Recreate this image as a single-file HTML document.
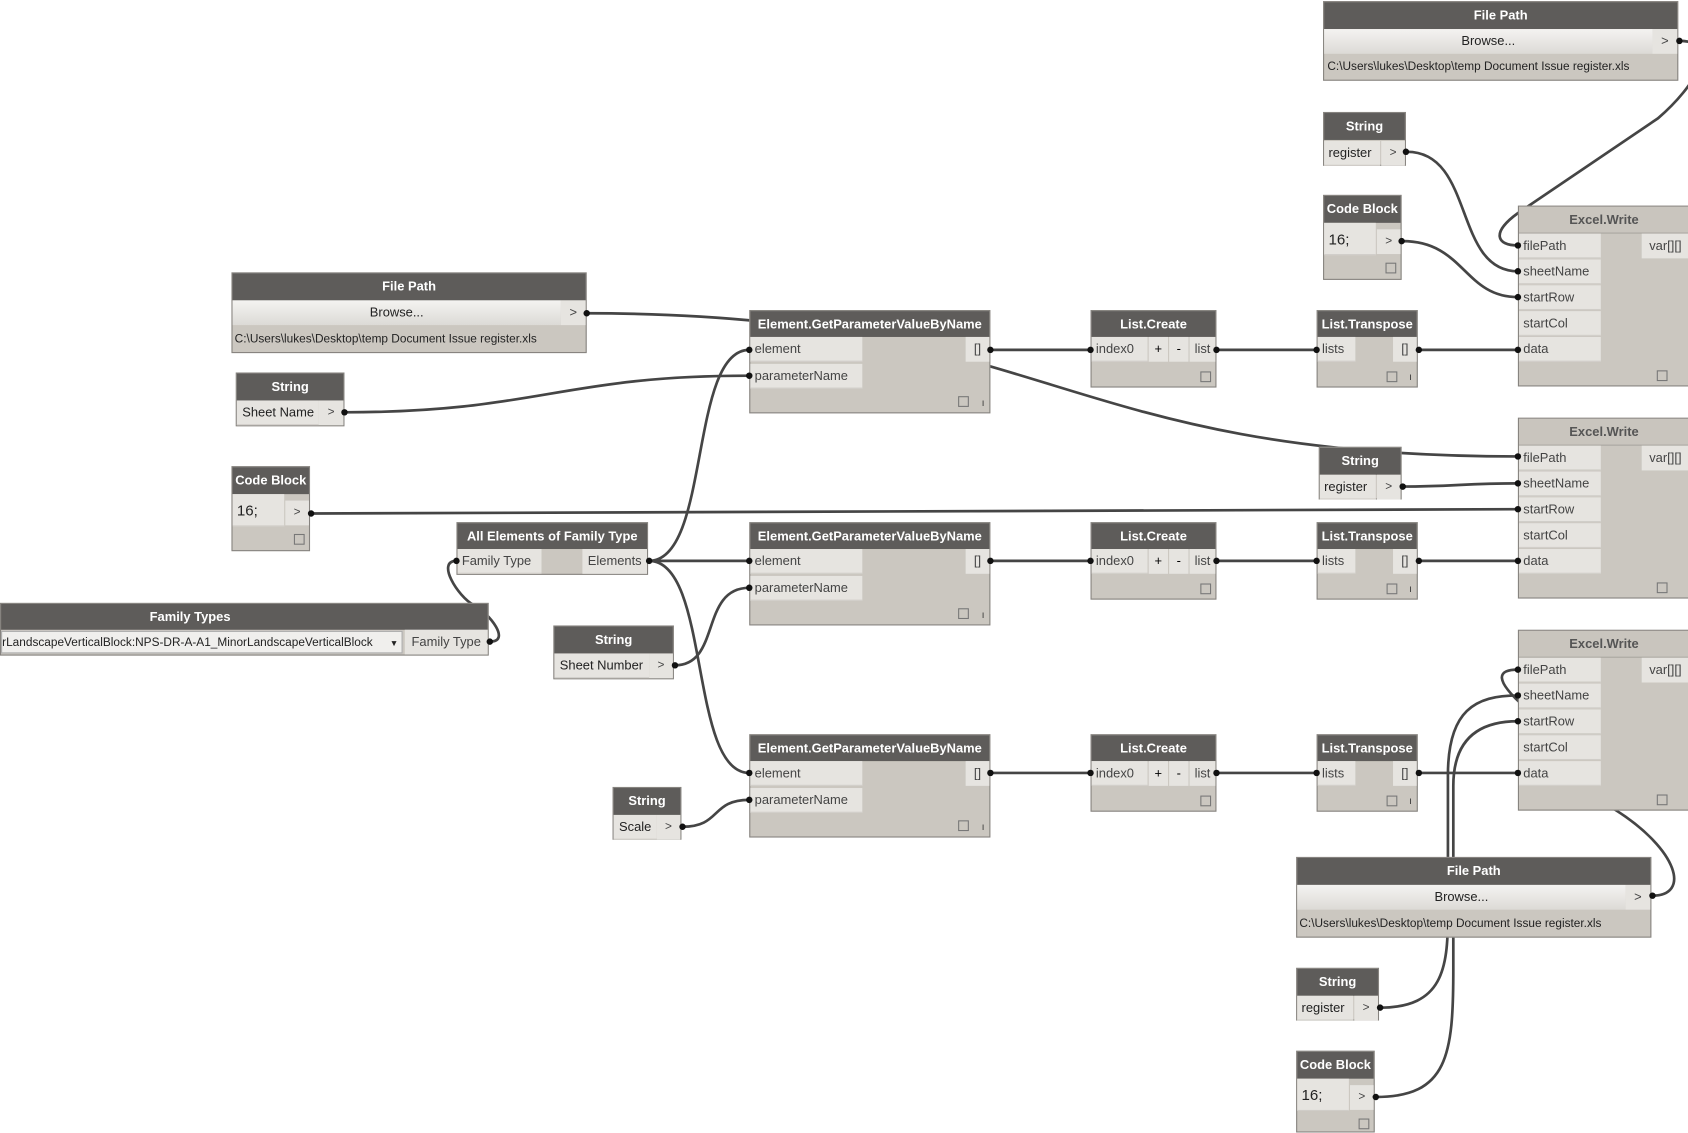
<!DOCTYPE html>
<html><head><meta charset="utf-8"><style>
body{margin:0;background:#fff;width:1688px;height:1130px;overflow:hidden}
#w{position:absolute;left:0;top:0;width:1568px;height:1050px;transform:scale(1.07653);transform-origin:0 0;font-family:"Liberation Sans",sans-serif;font-size:12px;color:#333}
.n{position:absolute;background:#cbc7c0;border:1px solid #86837f;box-sizing:border-box}
.h{position:absolute;left:0;right:0;top:0;height:24px;line-height:24px;background:#5e5c5a;color:#fff;font-weight:bold;text-align:center;font-size:12px;white-space:nowrap}
.hl{background:#c9c5be;color:#555;border-bottom:1px solid #a9a6a0}
.r{position:absolute;background:#e6e4e0;height:23px;line-height:23px;padding-left:4px;box-sizing:border-box;white-space:nowrap;color:#444;border-bottom:1px solid #d0cdc8}
.b{position:absolute;background:#e6e4e0;height:23px;line-height:23px;text-align:center;box-sizing:border-box;color:#444}
.sq{position:absolute;width:8px;height:8px;border:1px solid #777}
.br{position:absolute;background:linear-gradient(#f4f3f1,#dcdad6);height:23px;line-height:23px;text-align:center;color:#222}
svg{position:absolute;left:0;top:0}
</style></head><body><div id="w">
<svg width="1568" height="1050" fill="none" stroke="#454545" stroke-width="2.5">
<path d="M544,291 C977,291 977,424 1410,424"/>
<path d="M319,383 C500,383 520,349 696,349"/>
<path d="M289,477 L1410,473"/>
<path d="M603,521 C660,521 640,325 696,325"/>
<path d="M603,521 L696,521"/>
<path d="M603,521 C660,521 640,718 696,718"/>
<path d="M455,596 C475,596 455,570 440,562 C425,554 405,521 424,521"/>
<path d="M627,618 C670,618 650,546 696,546"/>
<path d="M634,768 C670,768 660,743 696,743"/>
<path d="M919,325 L1013,325 M919,521 L1013,521 M919,718 L1013,718"/>
<path d="M1129,325 L1223,325 M1129,521 L1223,521 M1129,718 L1223,718"/>
<path d="M1318,325 L1410,325 M1318,521 L1410,521 M1318,718 L1410,718"/>
<path d="M1303,452 C1350,452 1360,449 1410,449"/>
<path d="M1560,38 C1600,38 1575,80 1540,110 L1410,198 C1385,216 1390,228 1410,228"/>
<path d="M1307,141 C1370,141 1350,252 1410,252"/>
<path d="M1303,224 C1360,224 1360,276 1410,276"/>
<path d="M1535,832 C1570,832 1560,790 1500,752 L1420,660 C1385,630 1392,622 1410,622"/>
<path d="M1282,936 C1340,936 1345,900 1345,850 L1345,720 C1345,660 1370,646 1410,646"/>
<path d="M1278,1019 C1345,1019 1350,980 1350,900 L1350,730 C1350,690 1370,670 1410,670"/>
</svg>

<div class="n" style="left:1229px;top:1px;width:330px;height:74px"><div class="h" style="height:25px;line-height:25px">File Path</div><div class="br" style="left:0;top:25px;width:305px">Browse...</div><div class="b" style="left:305px;top:25px;width:23px">&gt;</div><div style="position:absolute;left:3px;top:54px;font-size:11px;color:#222">C:\Users\lukes\Desktop\temp Document Issue register.xls</div></div>
<div class="n" style="left:1229px;top:104px;width:77px;height:50px"><div class="h" style="height:25px;line-height:25px">String</div><div class="r" style="left:0;top:26px;width:52px;font-size:12px;color:#222">register</div><div class="b" style="left:53px;top:26px;width:22px;font-size:11px">&gt;</div></div>
<div class="n" style="left:1229px;top:181px;width:73px;height:79px"><div class="h" style="height:25px;line-height:25px">Code Block</div><div class="r" style="left:0;top:25px;width:48px;height:30px;line-height:30px;font-size:14px;color:#222">16;</div><div class="b" style="left:49px;top:31px;width:22px;font-size:11px">&gt;</div><div class="sq" style="left:57px;top:62px"></div></div>

<div class="n" style="left:1410px;top:191px;width:160px;height:168px"><div class="h hl">Excel.Write</div><div class="r" style="left:0;top:25px;width:76px">filePath</div><div class="r" style="left:0;top:49px;width:76px">sheetName</div><div class="r" style="left:0;top:73px;width:76px">startRow</div><div class="r" style="left:0;top:97px;width:76px">startCol</div><div class="r" style="left:0;top:121px;width:76px">data</div><div class="b" style="left:114px;top:25px;width:44px">var[][]</div><div class="sq" style="left:128px;top:152px"></div></div>
<div class="n" style="left:1410px;top:388px;width:160px;height:168px"><div class="h hl">Excel.Write</div><div class="r" style="left:0;top:25px;width:76px">filePath</div><div class="r" style="left:0;top:49px;width:76px">sheetName</div><div class="r" style="left:0;top:73px;width:76px">startRow</div><div class="r" style="left:0;top:97px;width:76px">startCol</div><div class="r" style="left:0;top:121px;width:76px">data</div><div class="b" style="left:114px;top:25px;width:44px">var[][]</div><div class="sq" style="left:128px;top:152px"></div></div>
<div class="n" style="left:1410px;top:585px;width:160px;height:168px"><div class="h hl">Excel.Write</div><div class="r" style="left:0;top:25px;width:76px">filePath</div><div class="r" style="left:0;top:49px;width:76px">sheetName</div><div class="r" style="left:0;top:73px;width:76px">startRow</div><div class="r" style="left:0;top:97px;width:76px">startCol</div><div class="r" style="left:0;top:121px;width:76px">data</div><div class="b" style="left:114px;top:25px;width:44px">var[][]</div><div class="sq" style="left:128px;top:152px"></div></div>

<div class="n" style="left:215px;top:253px;width:330px;height:75px"><div class="h" style="height:25px;line-height:25px">File Path</div><div class="br" style="left:0;top:25px;width:305px">Browse...</div><div class="b" style="left:305px;top:25px;width:23px">&gt;</div><div style="position:absolute;left:2px;top:55px;font-size:11px;color:#222">C:\Users\lukes\Desktop\temp Document Issue register.xls</div></div>
<div class="n" style="left:219px;top:346px;width:101px;height:50px"><div class="h" style="height:25px;line-height:25px">String</div><div class="r" style="left:0;top:25px;width:76px;font-size:12px;color:#222;padding-left:5px">Sheet Name</div><div class="b" style="left:76px;top:25px;width:23px;font-size:11px">&gt;</div></div>
<div class="n" style="left:215px;top:433px;width:73px;height:79px"><div class="h" style="height:25px;line-height:25px">Code Block</div><div class="r" style="left:0;top:25px;width:48px;height:30px;line-height:30px;font-size:14px;color:#222">16;</div><div class="b" style="left:49px;top:31px;width:22px;font-size:11px">&gt;</div><div class="sq" style="left:57px;top:62px"></div></div>
<div class="n" style="left:424px;top:485px;width:178px;height:49px"><div class="h">All Elements of Family Type</div><div class="r" style="left:0;top:24px;width:78px">Family Type</div><div class="b" style="left:116px;top:24px;width:60px">Elements</div></div>
<div class="n" style="left:0;top:560px;width:454px;height:49px"><div class="h" style="text-align:left;padding-left:138px">Family Types</div><div style="position:absolute;left:0;top:25px;width:373px;height:21px;line-height:21px;background:#f0efed;border:1px solid #aaa;box-sizing:border-box;font-size:11px;color:#222;white-space:nowrap;overflow:hidden">rLandscapeVerticalBlock:NPS-DR-A-A1_MinorLandscapeVerticalBlock <span style="position:absolute;right:3px;font-size:8px">▼</span></div><div class="b" style="left:375px;top:24px;width:77px">Family Type</div></div>
<div class="n" style="left:514px;top:581px;width:112px;height:50px"><div class="h" style="height:25px;line-height:25px">String</div><div class="r" style="left:0;top:25px;width:88px;font-size:12px;color:#222;padding-left:5px">Sheet Number</div><div class="b" style="left:88px;top:25px;width:22px;font-size:11px">&gt;</div></div>
<div class="n" style="left:569px;top:731px;width:64px;height:49px"><div class="h" style="height:25px;line-height:25px">String</div><div class="r" style="left:0;top:25px;width:40px;font-size:12px;color:#222;padding-left:5px">Scale</div><div class="b" style="left:40px;top:25px;width:22px;font-size:11px">&gt;</div></div>

<div class="n" style="left:696px;top:288px;width:224px;height:96px"><div class="h">Element.GetParameterValueByName</div><div class="r" style="left:0;top:24px;width:104px">element</div><div class="r" style="left:0;top:49px;width:104px">parameterName</div><div class="b" style="left:200px;top:24px;width:22px">[]</div><div class="sq" style="left:193px;top:79px"></div><div style="position:absolute;left:215px;top:80px;font-size:9px">ı</div></div>
<div class="n" style="left:696px;top:485px;width:224px;height:96px"><div class="h">Element.GetParameterValueByName</div><div class="r" style="left:0;top:24px;width:104px">element</div><div class="r" style="left:0;top:49px;width:104px">parameterName</div><div class="b" style="left:200px;top:24px;width:22px">[]</div><div class="sq" style="left:193px;top:79px"></div><div style="position:absolute;left:215px;top:80px;font-size:9px">ı</div></div>
<div class="n" style="left:696px;top:682px;width:224px;height:96px"><div class="h">Element.GetParameterValueByName</div><div class="r" style="left:0;top:24px;width:104px">element</div><div class="r" style="left:0;top:49px;width:104px">parameterName</div><div class="b" style="left:200px;top:24px;width:22px">[]</div><div class="sq" style="left:193px;top:79px"></div><div style="position:absolute;left:215px;top:80px;font-size:9px">ı</div></div>

<div class="n" style="left:1013px;top:288px;width:117px;height:72px"><div class="h">List.Create</div><div class="r" style="left:0;top:24px;width:52px">index0</div><div class="b" style="left:53px;top:24px;width:18px;color:#000">+</div><div class="b" style="left:72px;top:24px;width:18px;color:#000">-</div><div class="b" style="left:91px;top:24px;width:24px">list</div><div class="sq" style="left:101px;top:56px"></div></div>
<div class="n" style="left:1013px;top:485px;width:117px;height:72px"><div class="h">List.Create</div><div class="r" style="left:0;top:24px;width:52px">index0</div><div class="b" style="left:53px;top:24px;width:18px;color:#000">+</div><div class="b" style="left:72px;top:24px;width:18px;color:#000">-</div><div class="b" style="left:91px;top:24px;width:24px">list</div><div class="sq" style="left:101px;top:56px"></div></div>
<div class="n" style="left:1013px;top:682px;width:117px;height:72px"><div class="h">List.Create</div><div class="r" style="left:0;top:24px;width:52px">index0</div><div class="b" style="left:53px;top:24px;width:18px;color:#000">+</div><div class="b" style="left:72px;top:24px;width:18px;color:#000">-</div><div class="b" style="left:91px;top:24px;width:24px">list</div><div class="sq" style="left:101px;top:56px"></div></div>

<div class="n" style="left:1223px;top:288px;width:94px;height:72px"><div class="h">List.Transpose</div><div class="r" style="left:0;top:24px;width:35px">lists</div><div class="b" style="left:70px;top:24px;width:22px">[]</div><div class="sq" style="left:64px;top:56px"></div><div style="position:absolute;left:85px;top:56px;font-size:9px">ı</div></div>
<div class="n" style="left:1223px;top:485px;width:94px;height:72px"><div class="h">List.Transpose</div><div class="r" style="left:0;top:24px;width:35px">lists</div><div class="b" style="left:70px;top:24px;width:22px">[]</div><div class="sq" style="left:64px;top:56px"></div><div style="position:absolute;left:85px;top:56px;font-size:9px">ı</div></div>
<div class="n" style="left:1223px;top:682px;width:94px;height:72px"><div class="h">List.Transpose</div><div class="r" style="left:0;top:24px;width:35px">lists</div><div class="b" style="left:70px;top:24px;width:22px">[]</div><div class="sq" style="left:64px;top:56px"></div><div style="position:absolute;left:85px;top:56px;font-size:9px">ı</div></div>

<div class="n" style="left:1225px;top:415px;width:77px;height:49px"><div class="h" style="height:25px;line-height:25px">String</div><div class="r" style="left:0;top:25px;width:52px;font-size:12px;color:#222">register</div><div class="b" style="left:53px;top:25px;width:22px;font-size:11px">&gt;</div></div>

<div class="n" style="left:1204px;top:796px;width:330px;height:75px"><div class="h" style="height:25px;line-height:25px">File Path</div><div class="br" style="left:0;top:25px;width:305px">Browse...</div><div class="b" style="left:305px;top:25px;width:23px">&gt;</div><div style="position:absolute;left:2px;top:55px;font-size:11px;color:#222">C:\Users\lukes\Desktop\temp Document Issue register.xls</div></div>
<div class="n" style="left:1204px;top:899px;width:77px;height:49px"><div class="h" style="height:25px;line-height:25px">String</div><div class="r" style="left:0;top:25px;width:52px;font-size:12px;color:#222">register</div><div class="b" style="left:53px;top:25px;width:22px;font-size:11px">&gt;</div></div>
<div class="n" style="left:1204px;top:976px;width:73px;height:76px"><div class="h" style="height:25px;line-height:25px">Code Block</div><div class="r" style="left:0;top:25px;width:48px;height:30px;line-height:30px;font-size:14px;color:#222">16;</div><div class="b" style="left:49px;top:31px;width:22px;font-size:11px">&gt;</div><div class="sq" style="left:57px;top:62px"></div></div>

<svg width="1568" height="1050" fill="#111">
<circle cx="545" cy="291" r="3"/><circle cx="320" cy="383" r="3"/><circle cx="289" cy="477" r="3"/><circle cx="603" cy="521" r="3"/><circle cx="455" cy="596" r="3"/><circle cx="424" cy="521" r="3"/><circle cx="627" cy="618" r="3"/><circle cx="634" cy="768" r="3"/>
<circle cx="696" cy="325" r="3"/><circle cx="696" cy="349" r="3"/><circle cx="696" cy="521" r="3"/><circle cx="696" cy="546" r="3"/><circle cx="696" cy="718" r="3"/><circle cx="696" cy="743" r="3"/>
<circle cx="920" cy="325" r="3"/><circle cx="920" cy="521" r="3"/><circle cx="920" cy="718" r="3"/>
<circle cx="1013" cy="325" r="3"/><circle cx="1013" cy="521" r="3"/><circle cx="1013" cy="718" r="3"/>
<circle cx="1130" cy="325" r="3"/><circle cx="1130" cy="521" r="3"/><circle cx="1130" cy="718" r="3"/>
<circle cx="1223" cy="325" r="3"/><circle cx="1223" cy="521" r="3"/><circle cx="1223" cy="718" r="3"/>
<circle cx="1318" cy="325" r="3"/><circle cx="1318" cy="521" r="3"/><circle cx="1318" cy="718" r="3"/>
<circle cx="1410" cy="228" r="3"/><circle cx="1410" cy="252" r="3"/><circle cx="1410" cy="276" r="3"/><circle cx="1410" cy="325" r="3"/>
<circle cx="1410" cy="424" r="3"/><circle cx="1410" cy="449" r="3"/><circle cx="1410" cy="473" r="3"/><circle cx="1410" cy="521" r="3"/>
<circle cx="1410" cy="622" r="3"/><circle cx="1410" cy="646" r="3"/><circle cx="1410" cy="670" r="3"/><circle cx="1410" cy="718" r="3"/>
<circle cx="1560" cy="38" r="3"/><circle cx="1306" cy="141" r="3"/><circle cx="1302" cy="224" r="3"/><circle cx="1303" cy="452" r="3"/><circle cx="1535" cy="832" r="3"/><circle cx="1282" cy="936" r="3"/><circle cx="1278" cy="1019" r="3"/>
</svg>
</div></body></html>
